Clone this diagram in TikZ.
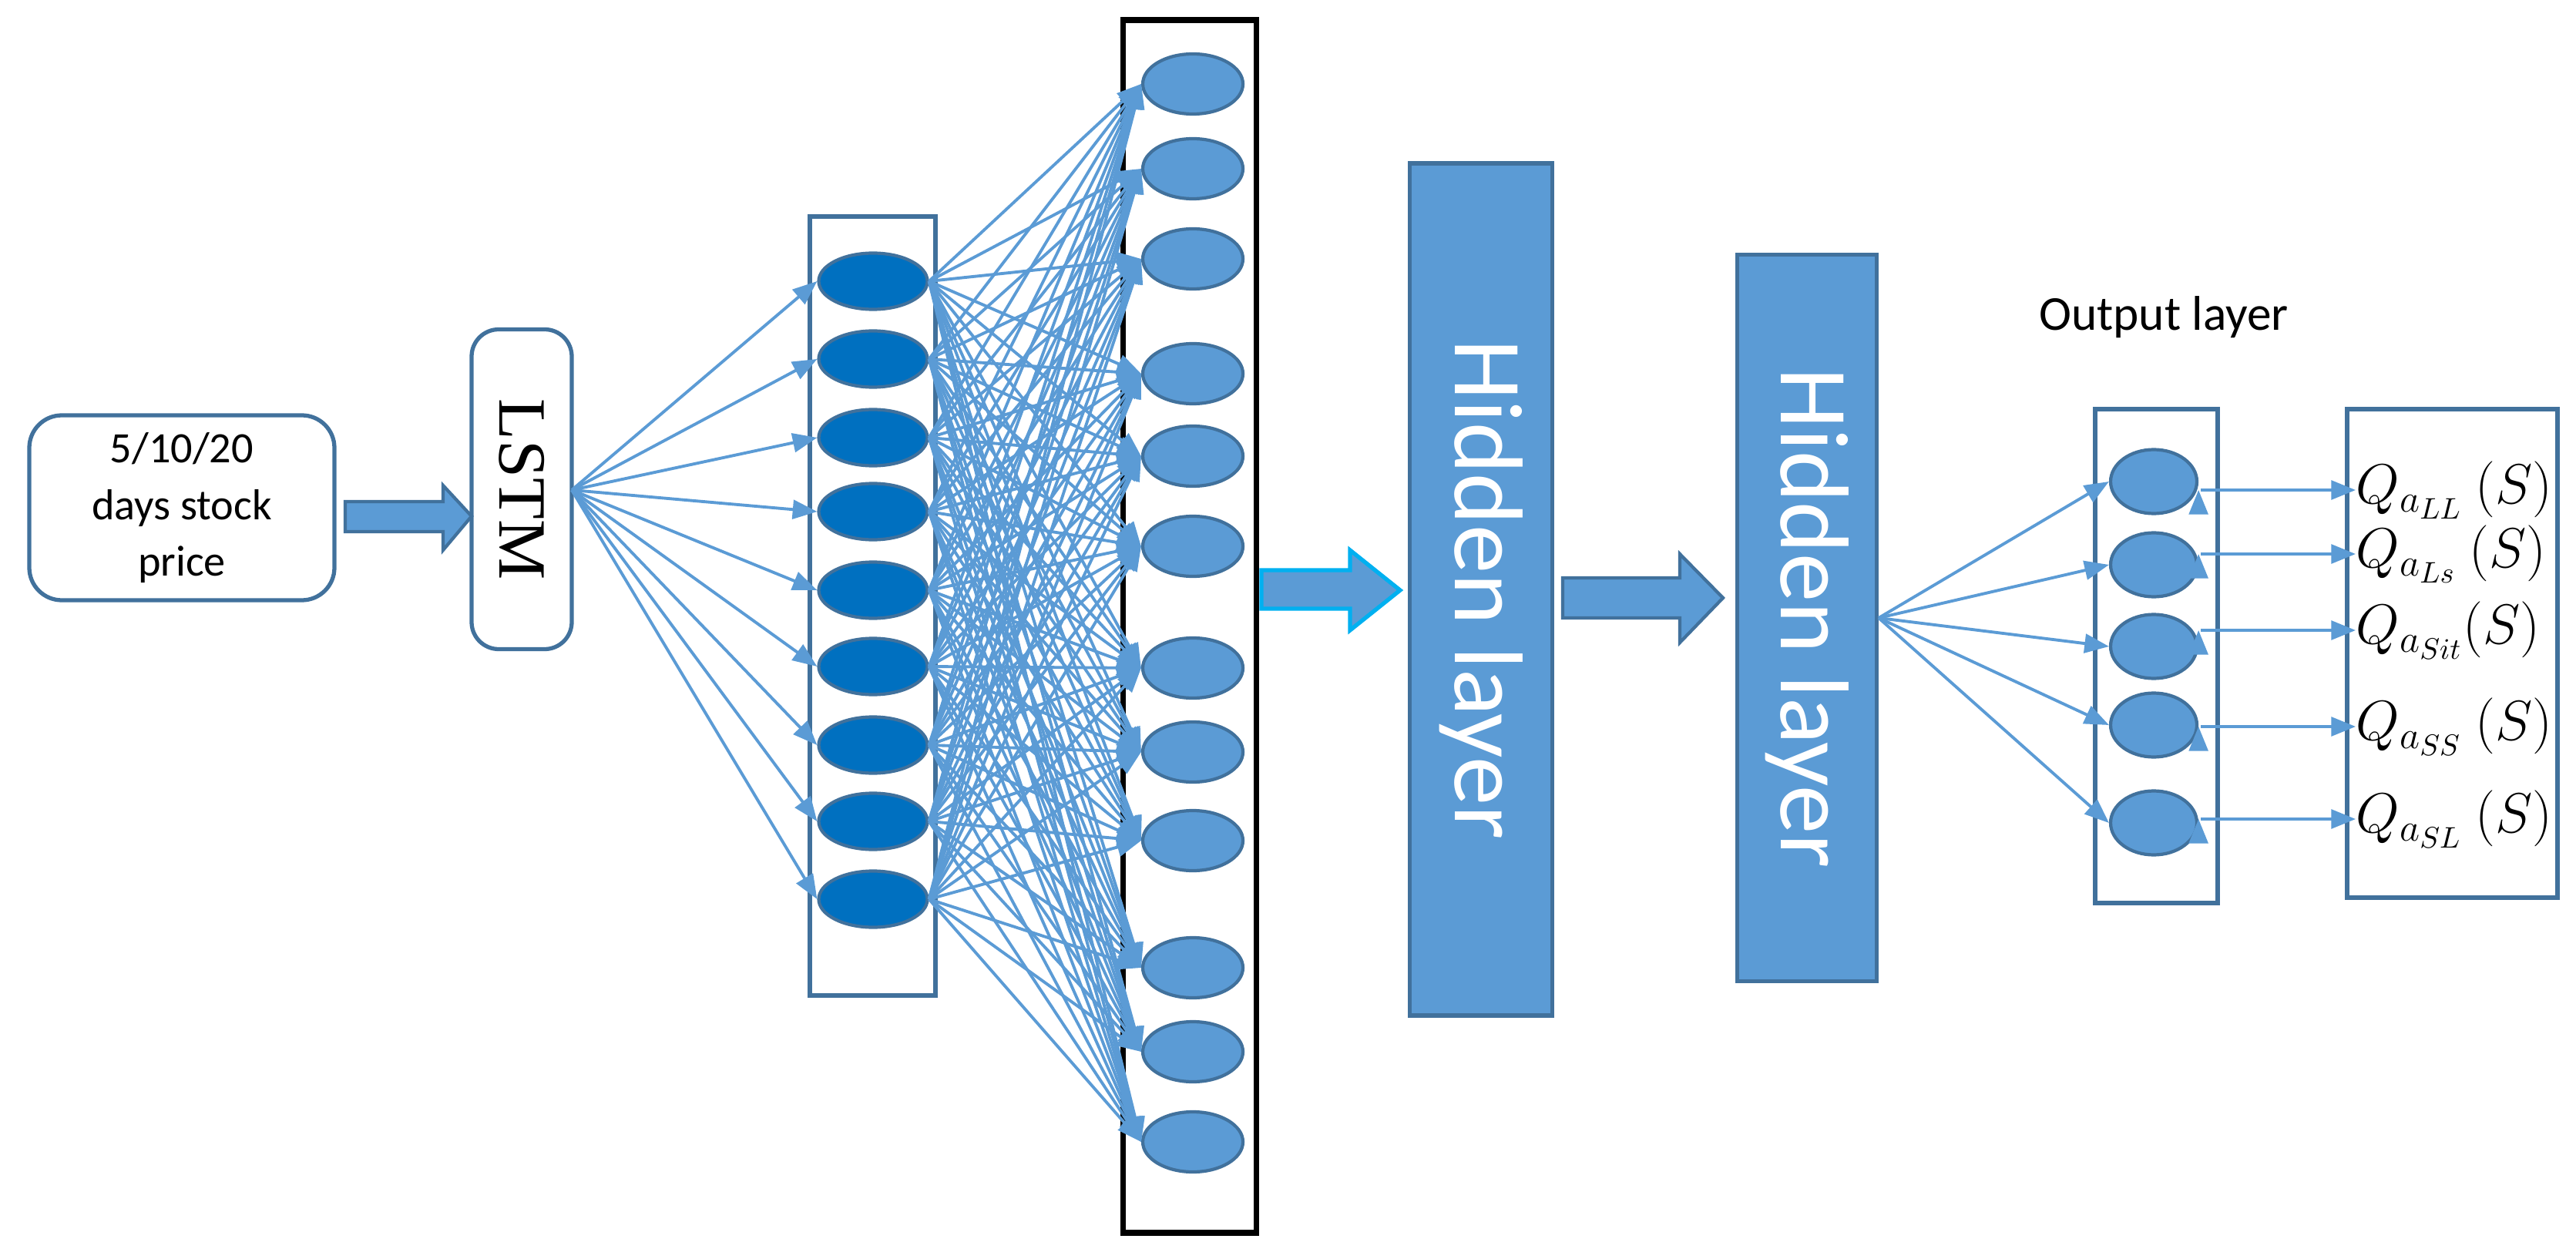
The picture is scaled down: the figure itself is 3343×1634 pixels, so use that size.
\documentclass[tikz,border=0pt]{standalone}
\usepackage{fontspec}
\setmainfont{Carlito}
\newfontfamily\serifx{Liberation Serif}
\usetikzlibrary{arrows.meta}
\definecolor{edgeb}{RGB}{65,113,156}
\definecolor{lightb}{RGB}{91,155,213}
\definecolor{darkb}{RGB}{0,112,192}
\definecolor{cyanb}{RGB}{0,176,240}
\tikzset{
 conn/.style={draw=lightb, line width=1.1pt, -{Triangle[length=9pt,width=7pt]}},
 darkell/.style={ellipse, draw=edgeb, line width=1.2pt, fill=darkb, minimum width=141\unitpx, minimum height=73\unitpx, inner sep=0pt},
 lightell/.style={ellipse, draw=edgeb, line width=1.2pt, fill=lightb, minimum width=130\unitpx, minimum height=78\unitpx, inner sep=0pt},
 outell/.style={ellipse, draw=edgeb, line width=1.2pt, fill=lightb, minimum width=112\unitpx, minimum height=83\unitpx, inner sep=0pt},
 frame/.style={draw=edgeb, line width=1.5pt},
 blockarrow/.style={fill=lightb, draw=edgeb, line width=1.2pt},
}
\newlength{\unitpx}\setlength{\unitpx}{0.01cm}
\usetikzlibrary{shapes.geometric}
\begin{document}
\begin{tikzpicture}[x=0.01cm,y=-0.01cm]
\useasboundingbox (0,0) rectangle (3343,1634);
% input box
\node[frame, rounded corners=12pt, minimum width=396\unitpx, minimum height=240\unitpx, align=center, font=\fontsize{16}{21}\selectfont] (inp) at (236,659) {5/10/20\\days stock\\price};
% arrow to LSTM
\draw[blockarrow] (448,651) -- (575,651) -- (575,630) -- (612,670) -- (575,714) -- (575,690) -- (448,690) -- cycle;
% LSTM
\node[frame, rounded corners=10pt, minimum width=130\unitpx, minimum height=415\unitpx] (lstm) at (677,635) {};
\node[rotate=-90, font=\serifx\fontsize{25}{25}\selectfont] at (lstm.center) {LSTM};
\coordinate (src1) at (742,636);
% layer 1
\draw[frame] (1051,281) rectangle (1214,1292);
\foreach \i/\y in {1/365,2/466,3/568,4/664,5/766,6/865,7/967,8/1066,9/1167}{
 \node[darkell] (a\i) at (1133,\y) {};
}
% layer 2
\draw[black, line width=2pt] (1457,26) rectangle (1630,1600);
\foreach \j/\y in {1/109,2/219,3/336,4/485,5/592,6/709,7/867,8/976,9/1091,10/1256,11/1365,12/1482}{
 \node[lightell] (b\j) at (1548,\y) {};
}
\foreach \i in {1,...,9}{ \draw[conn] (src1) -- (a\i.west); }
\foreach \i in {1,...,9}{\foreach \j in {1,...,12}{ \draw[conn] (a\i.east) -- (b\j.west); }}
% light arrow
\draw[fill=lightb, draw=cyanb, line width=1.5pt] (1637,740) -- (1752,740) -- (1752,714) -- (1817,766) -- (1752,818) -- (1752,790) -- (1637,790) -- cycle;
% hidden layers
\node[fill=lightb, draw=edgeb, line width=1.5pt, minimum width=185\unitpx, minimum height=1106\unitpx] (h1) at (1922,765) {};
\node[rotate=-90, text=white, font=\fontsize{36}{36}\selectfont] at (h1.center) {Hidden layer};
\draw[blockarrow] (2028,750) -- (2180,750) -- (2180,719) -- (2236,776) -- (2180,834) -- (2180,802) -- (2028,802) -- cycle;
\node[fill=lightb, draw=edgeb, line width=1.5pt, minimum width=181\unitpx, minimum height=943\unitpx] (h2) at (2345,802) {};
\node[rotate=-90, text=white, font=\fontsize{36}{36}\selectfont] at (h2.center) {Hidden layer};
\coordinate (src2) at (2438,802);
% output layer
\node[font=\fontsize{18}{18}\selectfont] (olab) at (2808,412) {Output layer};
\draw[frame] (2719,531) rectangle (2878,1172);
\draw[frame] (3046,531) rectangle (3319,1165);
\foreach \k/\y in {1/625,2/733,3/839,4/941,5/1068}{
 \node[outell] (c\k) at (2795,\y) {};
 \draw[conn] (src2) -- (c\k.west);
}
\foreach \k/\y/\t in {1/636/{Q_{a_{LL}}\ (S)},2/719/{Q_{a_{Ls}}\ (S)},3/818/{Q_{a_{Sit}}(S)},4/943/{Q_{a_{SS}}\ (S)},5/1063/{Q_{a_{SL}}\ (S)}}{
 \node[anchor=west, inner sep=0pt, font=\fontsize{21}{21}\selectfont] (q\k) at (3057,\y) {$\t$};
 \draw[conn] (c\k.east |- q\k.west) ++(0,0) coordinate (s\k);
 \draw[conn] (2856,\y) -- (q\k.west);
}
\end{tikzpicture}
\end{document}
